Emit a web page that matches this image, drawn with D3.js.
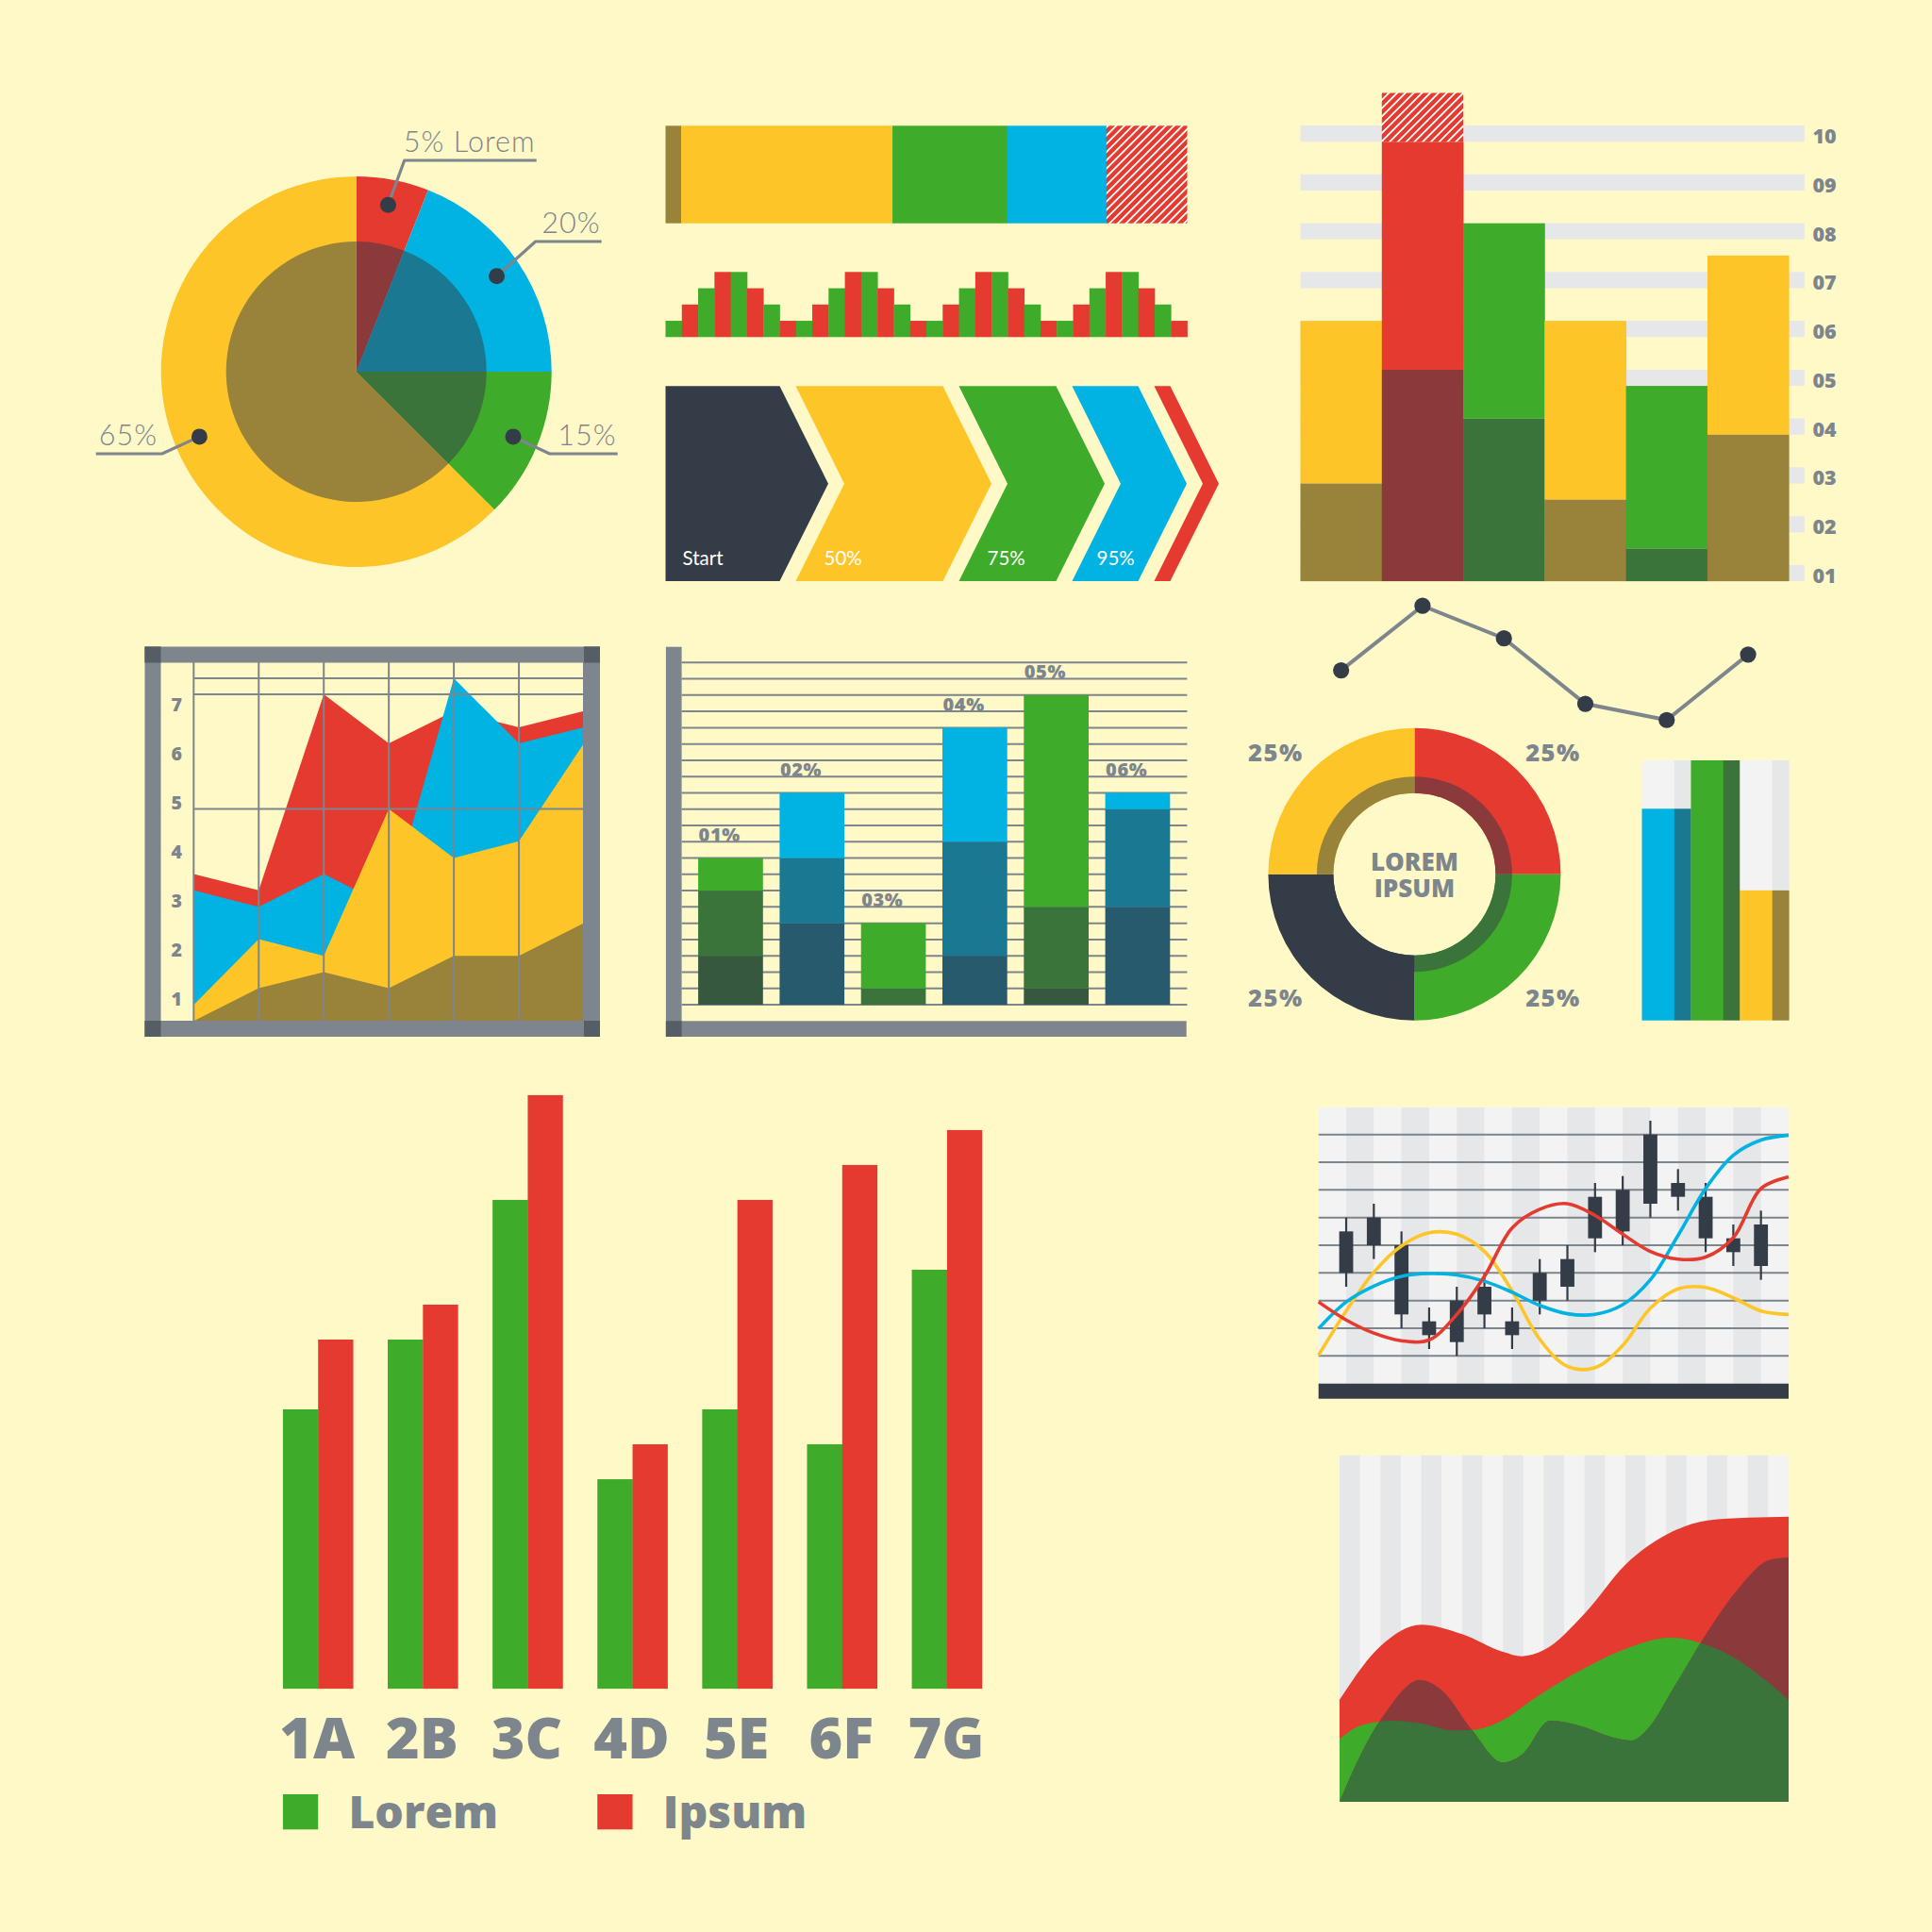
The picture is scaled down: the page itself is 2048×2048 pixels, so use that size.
<!DOCTYPE html>
<html><head><meta charset="utf-8">
<script src="https://cdn.jsdelivr.net/npm/d3@7"></script>
<style>body{margin:0;background:#FFF9C7}svg{display:block}</style>
</head><body>
<script>
// ================= DATA =================
// Panel 1: pie
const pieLabels = ["5% Lorem", "20%", "15%", "65%"];
const pieShares = [6, 19, 12.5, 62.5];
// Panel 2: strip, histogram, chevrons
const stripShares = [3, 40.5, 22, 19, 15.5];
const histLevels = [1,2,3,4,4,3,2,1, 1,2,3,4,4,3,2,1, 1,2,3,4,4,3,2,1, 1,2,3,4,4,3,2,1];
const chevronLabels = ["Start", "50%", "75%", "95%", ""];
const chevronWidths = [121, 156, 103, 70, 17];
// Panel 3: stacked columns with right ticks
const tickLabels10 = ["10","09","08","07","06","05","04","03","02","01"];
const colTotals = [5.33, 9, 7.33, 5.33, 4, 6.67];
const colBases  = [2, 4.33, 3.33, 1.67, 0.67, 3];
const colExtra  = [0, 1, 0, 0, 0, 0];
const colKinds  = ["y","r","g","y","g","y"];
// line with dots
const lineVals = [3.53, 6.23, 4.87, 2.13, 1.45, 4.19];
// donut
const donutShares = [25, 25, 25, 25];
const donutLabels = ["25%", "25%", "25%", "25%"];
// three columns
const colFill = [0.814, 1, 0.5];
const colFillKinds = ["b", "g", "y"];
// Panel 4: overlapping area chart
const areaTicks = [1, 2, 3, 4, 5, 6, 7];
const areaRed    = [3, 2.67, 6.67, 5.67, 6.33, 6, 6.33];
const areaBlue   = [2.67, 2.33, 3, 2.33, 7, 5.67, 6];
const areaYellow = [0.33, 1.67, 1.33, 4.33, 3.33, 3.67, 5.67];
const areaOlive  = [0, 0.67, 1, 0.67, 1.33, 1.33, 2];
const areaHLines = [4.33, 6.67, 7];
// Panel 5: stacked bars
const pctLabels = ["01%","02%","03%","04%","05%","06%"];
const stackLow  = [3, 5, 0, 3, 1, 6];
const stackMid  = [4, 4, 1, 7, 5, 6];
const stackTop  = [2, 4, 4, 7, 13, 1];
const stackKinds = ["g","b","g","b","g","b"];
// Panel 6: grouped bars
const groupLabels = ["1A","2B","3C","4D","5E","6F","7G"];
const loremVals = [8, 10, 14, 6, 8, 7, 12];
const ipsumVals = [10, 11, 17, 7, 14, 15, 16];
const legendLabels = ["Lorem", "Ipsum"];
// Panel 7: candlesticks + curves
const candleTop    = [22,24,20,9,12,14,9,16,18,27,28,36,29,27,21,23];
const candleBottom = [16,20,10,7,6,10,7,12,14,21,22,26,27,21,19,17];
const candleHigh   = [24,26,22,11,14,16,11,18,20,29,30,38,31,29,23,25];
const candleLow    = [14,18,8,5,4,8,5,10,12,19,20,24,25,19,17,15];
const blueCurve   = [7.95,11.8,14.1,15.5,15.9,15.7,14.8,13.2,11.3,10.1,10.0,11.4,15.0,21.4,28.2,33.0,35.2,35.9];
const redCurve    = [11.8,9.2,7.3,6.2,6.3,10.0,15.5,22.5,25.2,26.0,24.3,21.6,19.1,18.0,18.3,21.1,28.2,29.9];
const yellowCurve = [4.1,10.5,16.1,19.9,21.8,21.6,19.1,13.4,6.4,2.5,2.3,5.5,10.9,13.7,13.9,12.4,10.5,10.0];
// Panel 8: smooth areas
const redAreaX   = [0,9.1,18.2,27.3,36.4,40.6,45.5,54.6,63.7,72.8,81.9,91.0,100];
const redAreaY   = [29.5,44.9,51.1,48.4,43.3,42.0,43.8,54.4,68.5,77.1,81.2,82.0,82.3];
const greenAreaX = [0,4.9,11.9,18.9,25.2,29.4,36.4,43.4,53.9,64.4,73.5,80.5,88.9,95.9,100];
const greenAreaY = [18.1,22.1,23.4,22.4,20.6,20.7,23.6,29.9,38.1,44.5,47.4,45.8,40.8,34.0,29.5];
const darkAreaX  = [0,4.9,10.5,17.9,23.1,29.4,36.4,40.6,46.9,53.9,60.9,65.1,67.9,74.9,81.9,88.9,95.9,100];
const darkAreaY  = [0,14.1,26.3,35.2,31.8,20.9,11.3,13.6,23.4,21.8,18.6,17.7,20.0,34.0,49.0,61.7,69.9,70.5];

// ================= STYLE =================
const C = {
  bg:"#FFF9C7", yellow:"#FEC528", green:"#3EAC2A", red:"#E53A2F", blue:"#00B3E2",
  navy:"#333C47", gray:"#7D858D", olive:"#99823A", darkred:"#8B3A3C", teal:"#1A7893",
  dgreen:"#3A743A", dteal:"#285A6E", ddgreen:"#36583E", lg1:"#F3F3F3", lg2:"#E6E7E8", corner:"#555D65"
};
const FONT = "Lato, 'Open Sans', 'DejaVu Sans', sans-serif";
const BOLD = "'Open Sans', Lato, 'DejaVu Sans', sans-serif";
const kindLight = {y:C.yellow, r:C.red, g:C.green, b:C.blue};
const kindDark  = {y:C.olive, r:C.darkred, g:C.dgreen, b:C.teal};

const svg = d3.select("body").append("svg").attr("width", 2048).attr("height", 2048);
svg.append("rect").attr("width", 2048).attr("height", 2048).attr("fill", C.bg);
const defs = svg.append("defs");
const pat = defs.append("pattern").attr("id","hatch").attr("patternUnits","userSpaceOnUse")
  .attr("width", 6.2).attr("height", 6.2).attr("patternTransform","rotate(45)");
pat.append("rect").attr("width",6.2).attr("height",6.2).attr("fill",C.red);
pat.append("rect").attr("width",1.8).attr("height",6.2).attr("fill","#fff");

// ================= PANEL 1: PIE =================
{
  const g = svg.append("g").attr("transform","translate(377.7,394)");
  const arcs = d3.pie().sort(null).value(d=>d)(pieShares);
  const outerCols = [C.red, C.blue, C.green, C.yellow];
  const innerCols = [C.darkred, C.teal, C.dgreen, C.olive];
  g.selectAll("path.po").data(arcs).join("path").attr("class","po")
    .attr("d", d3.arc().innerRadius(0).outerRadius(207)).attr("fill",(d,i)=>outerCols[i]);
  g.selectAll("path.pi").data(arcs).join("path").attr("class","pi")
    .attr("d", d3.arc().innerRadius(0).outerRadius(138)).attr("fill",(d,i)=>innerCols[i]);
  const elbows = [[51,-224,140],[190,-138,70],[205,87,72],[-206,87,-70]];
  arcs.forEach((d,i)=>{
    const a = (d.startAngle+d.endAngle)/2;
    const cx = 180*Math.sin(a), cy = -180*Math.cos(a);
    const [ex,ey,len] = elbows[i];
    const fx = ex+len;
    g.append("polyline").attr("points",`${cx},${cy} ${ex},${ey} ${fx},${ey}`)
      .attr("fill","none").attr("stroke",C.gray).attr("stroke-width",3.2).attr("stroke-linejoin","round");
    g.append("circle").attr("cx",cx).attr("cy",cy).attr("r",8.5).attr("fill",C.navy);
    g.append("text").attr("x", len>0 ? fx-1 : fx+3).attr("y", ey-9)
      .attr("text-anchor", len>0 ? "end" : "start")
      .attr("font-family",FONT).attr("font-weight",300).attr("font-size",30.5)
      .attr("letter-spacing",1.1).attr("fill",C.gray)
      .text(pieLabels[i]);
  });
}

// ================= PANEL 2 =================
{
  const sx = d3.scaleLinear().domain([0,100]).range([705.5,1258.5]);
  let acc = 0;
  const segs = stripShares.map(v=>{const s={a:acc,b:acc+v}; acc+=v; return s;});
  const fills = [C.olive, C.yellow, C.green, C.blue, "url(#hatch)"];
  svg.selectAll("rect.strip").data(segs).join("rect").attr("class","strip")
    .attr("x",d=>sx(d.a)).attr("width",(d,i)=>sx(d.b)-sx(d.a)+(i<4?0.4:0))
    .attr("y",133.3).attr("height",103.4).attr("fill",(d,i)=>fills[i]);

  const hx = d3.scaleBand().domain(d3.range(histLevels.length)).range([705.5,1258.5]);
  const hy = d3.scaleLinear().domain([0,4]).range([357.3,288.3]);
  svg.selectAll("rect.hist").data(histLevels).join("rect").attr("class","hist")
    .attr("x",(d,i)=>hx(i)).attr("width",hx.bandwidth()+0.4)
    .attr("y",d=>hy(d)).attr("height",d=>hy(0)-hy(d))
    .attr("fill",(d,i)=> i%2 ? C.red : C.green);

  const gap = 17;
  const total = d3.sum(chevronWidths) + gap*(chevronWidths.length-1);
  const cx = d3.scaleLinear().domain([0,total]).range([705.5,1240.5]);
  const top=409.3, bot=616, mid=512.7, tip=51.5;
  const cols = [C.navy, C.yellow, C.green, C.blue, C.red];
  let c0 = 0;
  chevronWidths.forEach((w,i)=>{
    const x0 = cx(c0), x1 = cx(c0+w); c0 += w+gap;
    const pts = [[x0,top],[x1,top],[x1+tip,mid],[x1,bot],[x0,bot]];
    if (i>0) pts.push([x0+tip,mid]);
    svg.append("polygon").attr("points", pts.map(p=>p.join(",")).join(" ")).attr("fill",cols[i]);
    if (chevronLabels[i]) svg.append("text").attr("x", x0 + (i===0?18:(i===3?26:30))).attr("y",599)
      .attr("font-family",FONT).attr("font-size",20.5).attr("fill","#fff").text(chevronLabels[i]);
  });
}

// ================= PANEL 3 =================
{
  const x = d3.scaleBand().domain(d3.range(colTotals.length)).range([1378.5,1896.2]);
  const y = d3.scaleLinear().domain([0,10]).range([616.1,98.5]);
  tickLabels10.forEach((t,j)=>{
    const k = +t;
    const yA = y(k-1+1/3), yB = y(k-1);
    svg.append("rect").attr("x",1378.5).attr("width",534.3).attr("y",yA).attr("height",yB-yA).attr("fill",C.lg2);
    svg.append("text").attr("x",1921.5).attr("y",(yA+yB)/2+10.5)
      .attr("font-family",BOLD).attr("font-weight",800).attr("font-size",21.5).attr("fill",C.gray).text(t);
  });
  colTotals.forEach((tot,i)=>{
    const k = colKinds[i];
    svg.append("rect").attr("x",x(i)).attr("width",x.bandwidth()+0.4).attr("y",y(tot)).attr("height",y(colBases[i])-y(tot)).attr("fill",kindLight[k]);
    svg.append("rect").attr("x",x(i)).attr("width",x.bandwidth()+0.4).attr("y",y(colBases[i])).attr("height",y(0)-y(colBases[i])).attr("fill",kindDark[k]);
    if (colExtra[i]>0) svg.append("rect").attr("x",x(i)).attr("width",x.bandwidth())
      .attr("y",y(tot+colExtra[i])).attr("height",y(tot)-y(tot+colExtra[i])).attr("fill","url(#hatch)");
  });
  // line with dots
  const ly = d3.scaleLinear().domain([0,7]).range([800,622.7]);
  const lx = i => x(i)+x.bandwidth()/2;
  svg.append("path").attr("d", d3.line().x((d,i)=>lx(i)).y(d=>ly(d))(lineVals))
    .attr("fill","none").attr("stroke",C.gray).attr("stroke-width",4);
  svg.selectAll("circle.ld").data(lineVals).join("circle").attr("class","ld")
    .attr("cx",(d,i)=>lx(i)).attr("cy",d=>ly(d)).attr("r",8.6).attr("fill",C.navy);
}

// ================= DONUT =================
{
  const g = svg.append("g").attr("transform","translate(1499.4,926.7)");
  const arcs = d3.pie().sort(null).value(d=>d)(donutShares);
  const light = [C.red, C.green, C.navy, C.yellow];
  const dark  = [C.darkred, C.dgreen, C.navy, C.olive];
  g.selectAll("path.dl").data(arcs).join("path").attr("class","dl")
    .attr("d", d3.arc().innerRadius(86).outerRadius(155)).attr("fill",(d,i)=>light[i]);
  g.selectAll("path.dd").data(arcs).join("path").attr("class","dd")
    .attr("d", d3.arc().innerRadius(86).outerRadius(103.5)).attr("fill",(d,i)=>dark[i]);
  arcs.forEach((d,i)=>{
    const a = (d.startAngle+d.endAngle)/2;
    g.append("text").attr("x",208*Math.sin(a)).attr("y",-184*Math.cos(a))
      .attr("text-anchor","middle").attr("dominant-baseline","central")
      .attr("font-family",BOLD).attr("font-weight",800).attr("font-size",25.5).attr("letter-spacing",1.5).attr("fill",C.gray)
      .text(donutLabels[i]);
  });
  g.append("text").attr("y",-4).attr("text-anchor","middle").attr("font-family",BOLD).attr("font-weight",800)
    .attr("font-size",26).attr("fill",C.gray).text("LOREM");
  g.append("text").attr("y",24).attr("text-anchor","middle").attr("font-family",BOLD).attr("font-weight",800)
    .attr("font-size",26).attr("fill",C.gray).text("IPSUM");
}

// ================= THREE COLUMNS =================
{
  const x = d3.scaleBand().domain(d3.range(colFill.length)).range([1740.5,1896.3]);
  const y = d3.scaleLinear().domain([0,1]).range([1081.7,806]);
  const bw = x.bandwidth(), lw = bw*0.66;
  colFill.forEach((f,i)=>{
    const k = colFillKinds[i];
    svg.append("rect").attr("x",x(i)).attr("width",lw+0.3).attr("y",y(1)).attr("height",y(f)-y(1)).attr("fill",C.lg1);
    svg.append("rect").attr("x",x(i)+lw).attr("width",bw-lw+0.3).attr("y",y(1)).attr("height",y(f)-y(1)).attr("fill",C.lg2);
    svg.append("rect").attr("x",x(i)).attr("width",lw+0.3).attr("y",y(f)).attr("height",y(0)-y(f)).attr("fill",kindLight[k]);
    svg.append("rect").attr("x",x(i)+lw).attr("width",bw-lw+0.3).attr("y",y(f)).attr("height",y(0)-y(f)).attr("fill",kindDark[k]);
  });
}

// ================= PANEL 4: AREA CHART =================
{
  const x = d3.scaleLinear().domain([0,areaRed.length-1]).range([205.3,619]);
  const y = d3.scaleLinear().domain([0,7.333]).range([1082.3,701.7]);
  const area = d3.area().x((d,i)=>x(i)).y0(y(0)).y1(d=>y(d));
  [[areaRed,C.red],[areaBlue,C.blue],[areaYellow,C.yellow],[areaOlive,C.olive]].forEach(([s,c])=>{
    svg.append("path").attr("d",area(s)).attr("fill",c);
  });
  const grid = svg.append("g").attr("stroke",C.gray).attr("stroke-width",2);
  d3.range(areaRed.length).forEach(i=>{
    grid.append("line").attr("x1",x(i)).attr("x2",x(i)).attr("y1",y(7.333)).attr("y2",y(0));
  });
  areaHLines.forEach(v=>{
    grid.append("line").attr("x1",x(0)).attr("x2",x(6)).attr("y1",y(v)).attr("y2",y(v));
  });
  const ty = d3.scaleLinear().domain([1,7]).range([1058.3,746.7]);
  areaTicks.forEach(t=>{
    svg.append("text").attr("x",187.3).attr("y",ty(t)).attr("text-anchor","middle").attr("dominant-baseline","central")
      .attr("font-family",BOLD).attr("font-weight",800).attr("font-size",19.5).attr("fill",C.gray).text(t);
  });
  // frame
  const x0=153.5, x1=636, y0=685.5, y1=1099, t=17;
  const fr = svg.append("g").attr("fill",C.gray);
  fr.append("rect").attr("x",x0).attr("y",y0).attr("width",x1-x0).attr("height",t);
  fr.append("rect").attr("x",x0).attr("y",y1-t).attr("width",x1-x0).attr("height",t);
  fr.append("rect").attr("x",x0).attr("y",y0).attr("width",t).attr("height",y1-y0);
  fr.append("rect").attr("x",x1-t).attr("y",y0).attr("width",t).attr("height",y1-y0);
  [[x0,y0],[x1-t,y0],[x0,y1-t],[x1-t,y1-t]].forEach(([a,b])=>{
    svg.append("rect").attr("x",a).attr("y",b).attr("width",t).attr("height",t).attr("fill",C.corner);
  });
}

// ================= PANEL 5: STACKED BARS =================
{
  const x = d3.scaleBand().domain(d3.range(pctLabels.length)).range([740.1,1240.3]).paddingInner(0.204);
  const y = d3.scaleLinear().domain([0,21]).range([1065,702.3]);
  const lines = svg.append("g").attr("stroke",C.gray).attr("stroke-width",2);
  d3.range(0,22).forEach(k=>{
    lines.append("line").attr("x1",722.6).attr("x2",1258.4).attr("y1",y(k)).attr("y2",y(k));
  });
  const fam = { g:[C.ddgreen, C.dgreen, C.green], b:[C.dteal, C.teal, C.blue] };
  pctLabels.forEach((lab,i)=>{
    const parts = [stackLow[i], stackMid[i], stackTop[i]];
    let acc = 0;
    parts.forEach((v,j)=>{
      if (v<=0) return;
      svg.append("rect").attr("x",x(i)).attr("width",x.bandwidth()).attr("y",y(acc+v)).attr("height",y(acc)-y(acc+v))
        .attr("fill",fam[stackKinds[i]][j]);
      acc += v;
    });
    svg.append("text").attr("x",x(i)+0.5).attr("y",y(acc+1.02))
      .attr("font-family",BOLD).attr("font-weight",800).attr("font-size",20).attr("letter-spacing",0.6).attr("fill",C.gray).text(lab);
  });
  svg.append("rect").attr("x",705.9).attr("y",685.7).attr("width",16.7).attr("height",413.3).attr("fill",C.gray);
  svg.append("rect").attr("x",705.9).attr("y",1082.3).attr("width",551.8).attr("height",16.7).attr("fill",C.gray);
  svg.append("rect").attr("x",705.9).attr("y",1082.3).attr("width",16.7).attr("height",16.7).attr("fill",C.corner);
}

// ================= PANEL 6: GROUPED BARS =================
{
  const x = d3.scaleBand().domain(groupLabels).range([299.9,1041.2]).paddingInner(0.3285);
  const y = d3.scaleLinear().domain([0,17]).range([1790.1,1160.9]);
  const bw = x.bandwidth()/2;
  groupLabels.forEach((g,i)=>{
    svg.append("rect").attr("x",x(g)).attr("width",bw+0.3).attr("y",y(loremVals[i])).attr("height",y(0)-y(loremVals[i])).attr("fill",C.green);
    svg.append("rect").attr("x",x(g)+bw).attr("width",bw).attr("y",y(ipsumVals[i])).attr("height",y(0)-y(ipsumVals[i])).attr("fill",C.red);
    svg.append("text").attr("x",x(g)+x.bandwidth()/2-1).attr("y",1864.4).attr("text-anchor","middle")
      .attr("font-family",BOLD).attr("font-weight",800).attr("font-size",61).attr("fill",C.gray).text(g);
  });
  const legX = [x(groupLabels[0]), x(groupLabels[3])];
  [C.green, C.red].forEach((c,i)=>{
    svg.append("rect").attr("x",legX[i]).attr("y",1902).attr("width",bw).attr("height",bw).attr("fill",c);
    svg.append("text").attr("x",legX[i]+69.5).attr("y",1937.6)
      .attr("font-family",BOLD).attr("font-weight",800).attr("font-size",48).attr("fill",C.gray).text(legendLabels[i]);
  });
}

// ================= PANEL 7: CANDLESTICK =================
{
  const x = d3.scaleLinear().domain([0,17]).range([1397.7,1896]);
  const y = d3.scaleLinear().domain([0,40]).range([1466.67,1173.33]);
  d3.range(17).forEach(i=>{
    svg.append("rect").attr("x",x(i)).attr("width",x(i+1)-x(i)+0.3).attr("y",1174).attr("height",292.7)
      .attr("fill", i%2 ? C.lg2 : C.lg1);
  });
  const gl = svg.append("g").attr("stroke",C.gray).attr("stroke-width",2);
  d3.range(4,40,4).forEach(v=>{
    gl.append("line").attr("x1",x(0)).attr("x2",x(17)).attr("y1",y(v)).attr("y2",y(v));
  });
  svg.append("rect").attr("x",x(0)).attr("width",x(17)-x(0)).attr("y",1466.7).attr("height",16).attr("fill",C.navy);
  candleTop.forEach((t,i)=>{
    const cx = x(i+1);
    svg.append("line").attr("x1",cx).attr("x2",cx).attr("y1",y(candleHigh[i])).attr("y2",y(candleLow[i]))
      .attr("stroke",C.navy).attr("stroke-width",2.2);
    svg.append("rect").attr("x",cx-7.4).attr("width",14.8).attr("y",y(t)).attr("height",y(candleBottom[i])-y(t)).attr("fill",C.navy);
  });
  const line = d3.line().x((d,i)=>x(i)).y(d=>y(d)).curve(d3.curveCatmullRom.alpha(0.5));
  [[yellowCurve,C.yellow],[blueCurve,C.blue],[redCurve,C.red]].forEach(([s,c])=>{
    svg.append("path").attr("d",line(s)).attr("fill","none").attr("stroke",c).attr("stroke-width",3.6);
  });
}

// ================= PANEL 8: SMOOTH AREAS =================
{
  const x = d3.scaleLinear().domain([0,100]).range([1420,1896]);
  const y = d3.scaleLinear().domain([0,100]).range([1910,1542.7]);
  d3.range(22).forEach(i=>{
    const a = x(i*100/22), b = x((i+1)*100/22);
    svg.append("rect").attr("x",a).attr("width",b-a+0.3).attr("y",y(100)).attr("height",y(0)-y(100))
      .attr("fill", i%2 ? C.lg1 : C.lg2);
  });
  const mk = (xs,ys)=> xs.map((v,i)=>[v,ys[i]]);
  const area = d3.area().x(d=>x(d[0])).y0(y(0)).y1(d=>y(d[1])).curve(d3.curveMonotoneX);
  const redPts = mk(redAreaX, redAreaY), greenPts = mk(greenAreaX, greenAreaY), darkPts = mk(darkAreaX, darkAreaY);
  svg.append("path").attr("d",area(redPts)).attr("fill",C.red);
  svg.append("path").attr("d",area(greenPts)).attr("fill",C.green);
  defs.append("clipPath").attr("id","greenClip").append("path").attr("d",area(greenPts));
  svg.append("path").attr("d",area(darkPts)).attr("fill",C.darkred);
  svg.append("path").attr("d",area(darkPts)).attr("fill",C.dgreen).attr("clip-path","url(#greenClip)");
}
</script>
</body></html>
